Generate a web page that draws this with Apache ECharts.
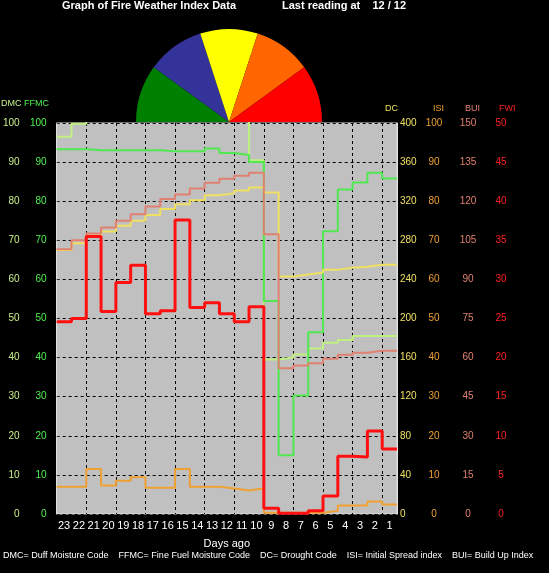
<!DOCTYPE html><html><head><meta charset="utf-8">
<script src="https://cdn.jsdelivr.net/npm/echarts@6/dist/echarts.min.js"></script>
<style>html,body{margin:0;background:#000}#c{width:549px;height:573px}</style></head><body><div id="c"></div><script>
const days=['23','22','21','20','19','18','17','16','15','14','13','12','11','10','9','8','7','6','5','4','3','2','1'];
const dmc=[96.5,99.8,110,110,110,110,110,110,110,110,110,110,110,90.5,39.5,40,40.8,42.3,43.8,44.5,45.5,45.5,45.5];
const ffmc=[93.3,93.3,93,93,93,93,93,92.8,92.8,92.8,93.5,92.3,91.8,90,54.5,15,30.3,46.5,72.3,83,84.8,87.3,85.8];
const dc=[270,277,285,289,295,300,306,312,317,321,326,328,331,334,329,243,245,247,250,252,253,255,255];
const isi=[7,7,11.5,7.3,8.5,9.4,6.7,6.7,11.5,7,7,6.5,6,6.5,0.3,0.3,0.3,0.3,0.8,2.2,2.2,3.2,2.4];
const bui=[101.6,105,107.6,109.9,112.5,115,118,120.8,122.6,124.9,127.1,128.6,129.8,130.9,107.3,55.9,57,57.8,59.6,61.1,61.9,62.6,62.6];
const fwi=[24.6,25,35.5,25.9,29.6,31.8,25.6,26,37.6,26.4,27,25.6,24.6,26.5,0.75,0.1,0.1,0.4,2.3,7.4,7.3,10.6,8.3];
const ticks100=[0,10,20,30,40,50,60,70,80,90,100];
function pts(a){const r=a.map((v,i)=>[i,v]);r.push([a.length,a[a.length-1]]);return r;}
const F='Liberation Sans';
function ax(pos,max,color,offset,align,idx){return{type:'value',gridIndex:0,position:pos,offset:offset,min:0,max:max,interval:max/10,
 axisLine:{show:idx===0||idx===2,lineStyle:{color:'#e0e0e0'}},axisTick:{show:idx===0,length:3,inside:true,lineStyle:{color:'#333'}},
 splitLine:{show:idx===0,lineStyle:{color:'#000',type:[3,3]}},
 axisLabel:{color:color,fontSize:10,fontFamily:F,align:align,margin:(pos==='left'?10:3)}};}
const chart=echarts.init(document.getElementById('c'));
const L=(name,data,y,color,w)=>({name,type:'line',step:'end',symbol:'none',xAxisIndex:0,yAxisIndex:y,data:pts(data),lineStyle:{color,width:w},clip:true,animation:false});
chart.setOption({backgroundColor:'#000',animation:false,
 grid:{left:53,right:152,top:123,bottom:59,show:true,backgroundColor:'#c0c0c0',borderColor:'#e0e0e0'},
 xAxis:[{type:'value',min:0,max:23,interval:2,axisLabel:{show:false},axisTick:{show:false},axisLine:{show:false},splitLine:{show:true,lineStyle:{color:'#000',type:[3,3]}}},
  {type:'category',data:days,position:'bottom',boundaryGap:true,axisTick:{show:false},axisLine:{show:false},axisLabel:{color:'#fff',fontSize:11,fontFamily:F,margin:6,interval:0},name:'Days ago',nameLocation:'middle',nameGap:24,nameTextStyle:{color:'#fff',fontSize:11,fontFamily:F}}],
 yAxis:[ax('left',100,'#4ef04e',0,'right',0),ax('left',100,'#c8f08a',27,'right',1),
  ax('right',400,'#f0e060',0,'left',2),ax('right',100,'#f0a030',34,'center',3),ax('right',150,'#e08070',68,'center',4),ax('right',50,'#ff2020',101,'center',5)],
 series:[L('DMC',dmc,1,'#c0f080',2),L('FFMC',ffmc,0,'#50e850',2),L('DC',dc,2,'#f0e060',2),L('BUI',bui,4,'#e08070',2),L('ISI',isi,3,'#f0a030',2),L('FWI',fwi,5,'#ff1010',3),
  {type:'pie',silent:true,center:[229,122],radius:[0,93],startAngle:180,label:{show:false},itemStyle:{borderWidth:0},animation:false,
   data:[{value:1,itemStyle:{color:'#008000'}},{value:1,itemStyle:{color:'#333399'}},{value:1,itemStyle:{color:'#ffff00'}},{value:1,itemStyle:{color:'#ff6600'}},{value:1,itemStyle:{color:'#ff0000'}},{value:5,itemStyle:{color:'rgba(0,0,0,0)'}}]}],
 graphic:[
  {type:'text',left:62,top:0,style:{text:'Graph of Fire Weather Index Data',fill:'#fff',font:'bold 11px '+F}},
  {type:'text',left:282,top:0,style:{text:'Last reading at    12 / 12',fill:'#fff',font:'bold 11px '+F}},
  {type:'text',left:156,top:96,style:{text:'LOW',fill:'#fff',font:'bold 15px '+F}},
  {type:'text',left:166,top:55,style:{text:'MOD.',fill:'#fff',font:'bold 14px '+F}},
  {type:'text',left:204,top:37,style:{text:'HIGH',fill:'#c8c8c8',font:'bold 13px '+F}},
  {type:'text',left:251,top:49,style:{text:'VERY\nHIGH',fill:'#fff',font:'bold 13px '+F,lineHeight:15}},
  {type:'text',left:273,top:97,style:{text:'EXT.',fill:'#fff',font:'bold 15px '+F}},
  {type:'polygon',shape:{points:[[226,121],[208,97],[203,103],[193,78],[220,86],[213,90],[231,116]]},style:{fill:'#000',stroke:'#223',lineWidth:1}},
  {type:'text',left:1,top:99,style:{text:'DMC',fill:'#c8f08a',font:'9px '+F}},
  {type:'text',left:24,top:99,style:{text:'FFMC',fill:'#4ef04e',font:'9px '+F}},
  {type:'text',left:385,top:104,style:{text:'DC',fill:'#f0e060',font:'9px '+F}},
  {type:'text',left:433,top:104,style:{text:'ISI',fill:'#f0a030',font:'9px '+F}},
  {type:'text',left:465,top:104,style:{text:'BUI',fill:'#e08070',font:'9px '+F}},
  {type:'text',left:499,top:104,style:{text:'FWI',fill:'#ff2020',font:'9px '+F}},
  {type:'text',left:3,top:551,style:{text:'DMC= Duff Moisture Code    FFMC= Fine Fuel Moisture Code    DC= Drought Code    ISI= Initial Spread index    BUI= Build Up Index',fill:'#fff',font:'9px '+F}}
 ]});
</script></body></html>
